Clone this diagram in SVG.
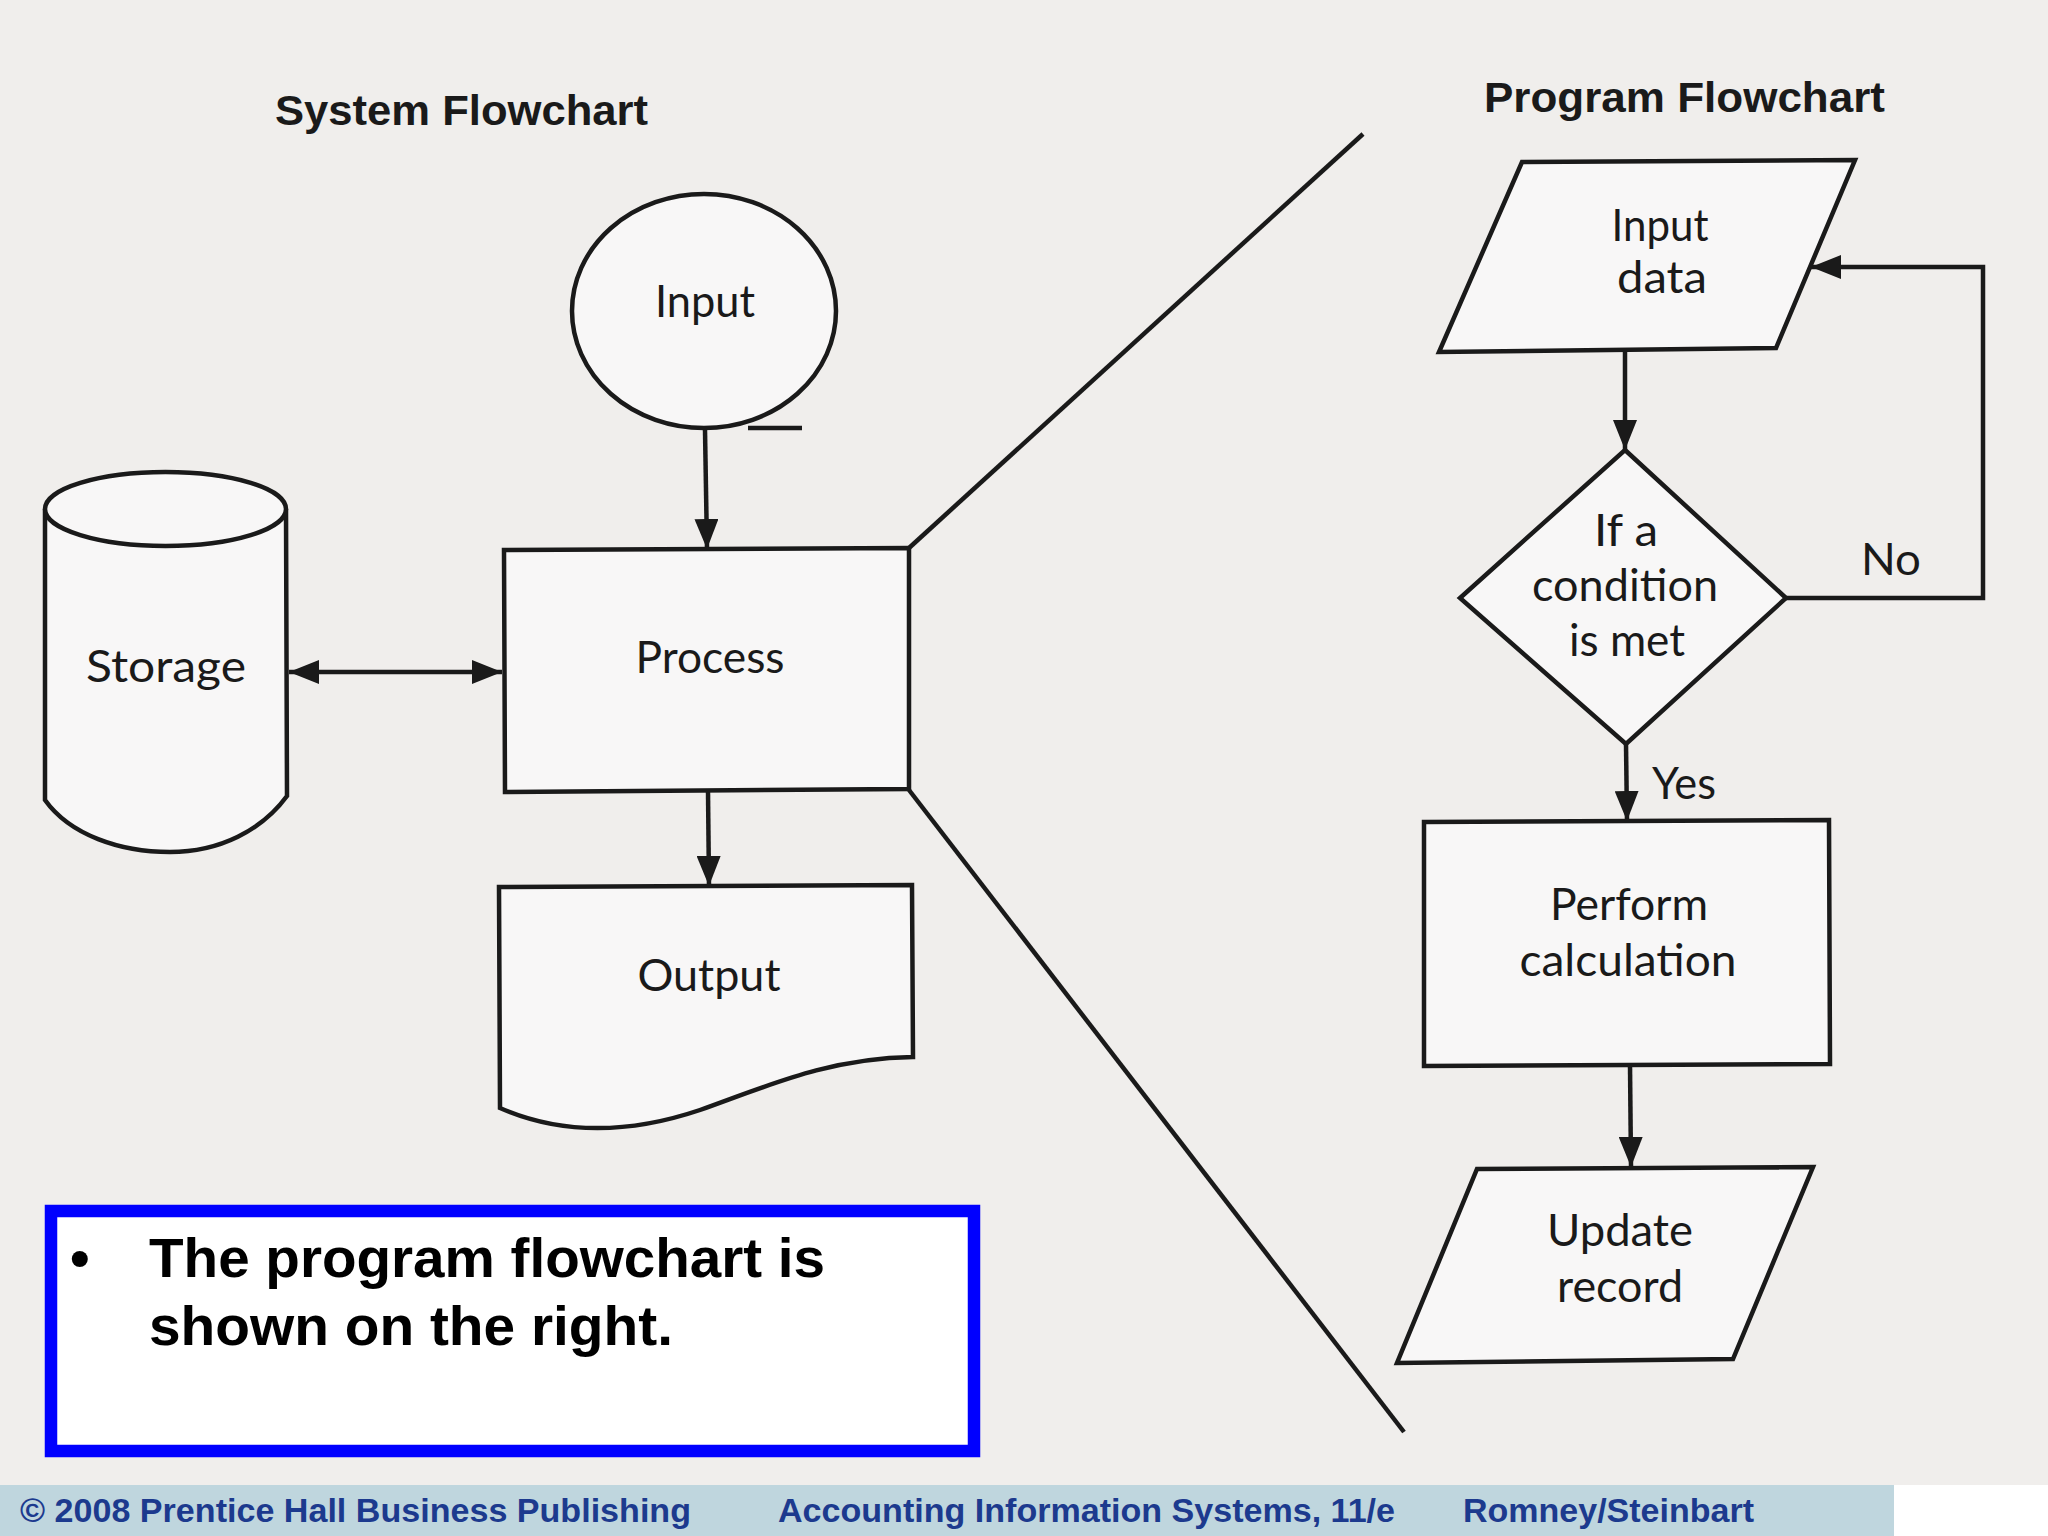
<svg xmlns="http://www.w3.org/2000/svg" width="2048" height="1536" viewBox="0 0 2048 1536">
<style>
.shape{fill:#f8f7f7;stroke:#1a1a1a;stroke-width:4.5;stroke-linejoin:miter}
.line{fill:none;stroke:#1a1a1a;stroke-width:4.5}
.lbl{font-family:Lato,"Noto Sans",sans-serif;font-size:44px;fill:#1a1a1a;text-anchor:middle}
.title{font-family:"Liberation Sans",Arial,sans-serif;font-weight:bold;font-size:42px;fill:#1a1a1a}
.foot{font-family:"Liberation Sans",Arial,sans-serif;font-weight:bold;font-size:34px;fill:#1c3a8e}
.note{font-family:"Liberation Sans",Arial,sans-serif;font-weight:bold;font-size:56px;fill:#000}
</style>
<defs>
<marker id="ah" viewBox="0 0 30 24" refX="30" refY="12" markerWidth="30" markerHeight="24" markerUnits="userSpaceOnUse" orient="auto-start-reverse">
<path d="M0,0 L30,12 L0,24 z" fill="#1a1a1a"/>
</marker>
</defs>
<rect x="0" y="0" width="2048" height="1536" fill="#f0eeec"/>

<text class="title" x="275" y="125" textLength="373" lengthAdjust="spacingAndGlyphs">System Flowchart</text>
<text class="title" x="1484" y="112" textLength="401" lengthAdjust="spacingAndGlyphs">Program Flowchart</text>

<g id="connectors">
<path class="line" d="M705,430 L707,549" marker-end="url(#ah)"/>
<path class="line" d="M289,672 L502,672" marker-start="url(#ah)" marker-end="url(#ah)"/>
<path class="line" d="M708,791 L709,886" marker-end="url(#ah)"/>
<path class="line" d="M909,548 L1363,134"/>
<path class="line" d="M909,790 L1404,1432"/>
<path class="line" d="M1625,352 L1625,450" marker-end="url(#ah)"/>
<path class="line" d="M1626,744 L1627,821" marker-end="url(#ah)"/>
<path class="line" d="M1786,598 L1983,598 L1983,267 L1811,267" marker-end="url(#ah)"/>
<path class="line" d="M1630,1065 L1631,1167" marker-end="url(#ah)"/>
<text class="lbl" x="1891" y="575" textLength="60" lengthAdjust="spacingAndGlyphs">No</text>
<text class="lbl" x="1684" y="799" textLength="64" lengthAdjust="spacingAndGlyphs">Yes</text>
</g>

<g id="input">
<ellipse class="shape" cx="704" cy="311" rx="132" ry="117"/>
<path class="line" d="M748,428 L802,428"/>
<text class="lbl" x="705" y="317" textLength="100" lengthAdjust="spacingAndGlyphs">Input</text>
</g>

<g id="storage">
<path class="shape" d="M45,509 L45,800 C70,835 120,852 170,852 C220,852 262,830 287,796 L286,509"/>
<ellipse class="shape" cx="165.5" cy="509" rx="120.5" ry="37"/>
<text class="lbl" x="166" y="682" textLength="160" lengthAdjust="spacingAndGlyphs">Storage</text>
</g>

<g id="process">
<path class="shape" d="M504,550 L909,548 L909,789 L505,792 Z"/>
<text class="lbl" x="710" y="673" textLength="149" lengthAdjust="spacingAndGlyphs">Process</text>
</g>

<g id="output">
<path class="shape" d="M499,887 L912,885 L913,1057 C830,1058 770,1085 700,1110 C620,1137 555,1132 500,1108 Z"/>
<text class="lbl" x="709" y="991" textLength="143" lengthAdjust="spacingAndGlyphs">Output</text>
</g>

<g id="input-data">
<path class="shape" d="M1522,162 L1855,160 L1776,348 L1439,352 Z"/>
<text class="lbl" x="1660" y="241" textLength="97" lengthAdjust="spacingAndGlyphs">Input</text>
<text class="lbl" x="1662" y="293" textLength="90" lengthAdjust="spacingAndGlyphs">data</text>
</g>

<g id="decision">
<path class="shape" d="M1625,450 L1786,598 L1626,744 L1460,598 Z"/>
<text class="lbl" x="1626" y="546" textLength="64" lengthAdjust="spacingAndGlyphs">If a</text>
<text class="lbl" x="1625" y="601" textLength="186" lengthAdjust="spacingAndGlyphs">condition</text>
<text class="lbl" x="1627" y="656" textLength="116" lengthAdjust="spacingAndGlyphs">is met</text>
</g>

<g id="calc">
<path class="shape" d="M1424,822 L1829,820 L1830,1064 L1424,1066 Z"/>
<text class="lbl" x="1629" y="920" textLength="158" lengthAdjust="spacingAndGlyphs">Perform</text>
<text class="lbl" x="1628" y="976" textLength="217" lengthAdjust="spacingAndGlyphs">calculation</text>
</g>

<g id="update">
<path class="shape" d="M1477,1169 L1813,1167 L1733,1359 L1397,1363 Z"/>
<text class="lbl" x="1620" y="1246" textLength="146" lengthAdjust="spacingAndGlyphs">Update</text>
<text class="lbl" x="1620" y="1302" textLength="126" lengthAdjust="spacingAndGlyphs">record</text>
</g>

<g id="note">
<rect x="51" y="1211" width="923" height="240" fill="#ffffff" stroke="#0000ff" stroke-width="12.5"/>
<text class="note" x="70" y="1277">•</text>
<text class="note" x="149" y="1277" textLength="676" lengthAdjust="spacingAndGlyphs">The program flowchart is</text>
<text class="note" x="149" y="1345" textLength="524" lengthAdjust="spacingAndGlyphs">shown on the right.</text>
</g>

<g id="footer">
<rect x="0" y="1485" width="1894" height="51" fill="#bfd6de"/>
<rect x="1894" y="1485" width="154" height="51" fill="#ffffff"/>
<text class="foot" x="20" y="1522" textLength="671" lengthAdjust="spacingAndGlyphs">© 2008 Prentice Hall Business Publishing</text>
<text class="foot" x="778" y="1522" textLength="617" lengthAdjust="spacingAndGlyphs">Accounting Information Systems, 11/e</text>
<text class="foot" x="1463" y="1522" textLength="291" lengthAdjust="spacingAndGlyphs">Romney/Steinbart</text>
</g>
</svg>
